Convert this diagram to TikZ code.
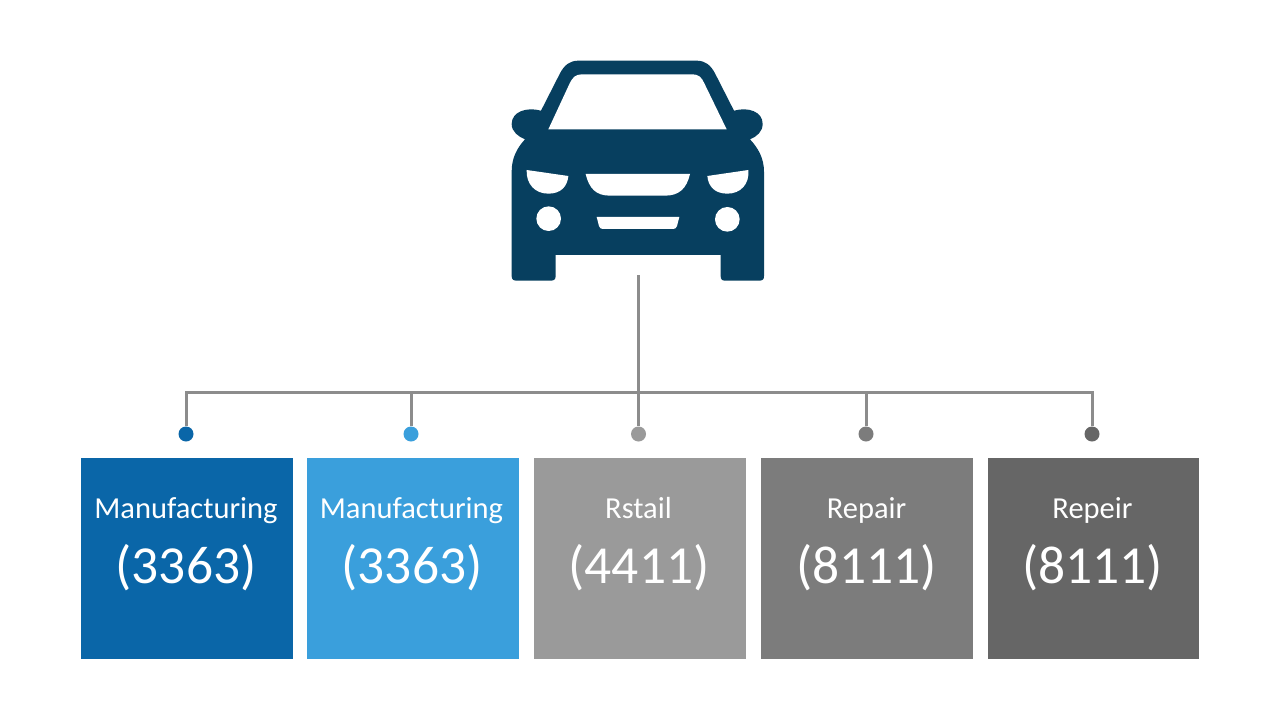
\documentclass[tikz,border=0pt]{standalone}
\usepackage{fontspec}
\setmainfont{Carlito}
\definecolor{carblue}{HTML}{073F5F}
\definecolor{boxa}{HTML}{0A66A8}
\definecolor{boxb}{HTML}{3A9FDC}
\definecolor{boxc}{HTML}{9A9A9A}
\definecolor{boxd}{HTML}{7C7C7C}
\definecolor{boxe}{HTML}{666666}
\definecolor{linegray}{HTML}{8C8C8C}
\tikzset{
  tile/.style={rectangle,inner sep=0pt,minimum height=201pt,minimum width=212pt,draw=none},
  tilename/.style={text=white,inner sep=0pt,anchor=base,font=\fontsize{30.5}{36}\selectfont},
  tilecode/.style={text=white,inner sep=0pt,anchor=base,font=\fontsize{53.5}{62}\selectfont},
  pin/.style={circle,inner sep=0pt,minimum size=15pt,draw=none},
  link/.style={line width=3pt,draw=linegray}
}
\begin{document}
\begin{tikzpicture}[x=1pt,y=-1pt]
\useasboundingbox (0,0) rectangle (1280,720);
\fill[white] (0,0) rectangle (1280,720);
% car
\begin{scope}[shift={(490,40)},x=0.33333pt,y=-0.33333pt]
\fill[carblue] (265,62) -- (620,62) .. controls (645,62) and (662,75) .. (675,100) -- (732,212)
  .. controls (775,200) and (818,215) .. (818,252) .. controls (818,275) and (800,290) .. (780,298)
  .. controls (805,325) and (822,355) .. (822,395) -- (822,708) .. controls (822,718) and (818,722) .. (808,722)
  -- (706,722) .. controls (696,722) and (692,718) .. (692,708) -- (692,645) -- (197,645) -- (197,708)
  .. controls (197,718) and (192,722) .. (182,722) -- (80,722) .. controls (70,722) and (65,718) .. (65,708)
  -- (65,395) .. controls (65,355) and (80,325) .. (105,298)
  .. controls (85,290) and (65,275) .. (65,252) .. controls (65,215) and (110,200) .. (153,212)
  -- (210,100) .. controls (223,75) and (240,62) .. (265,62) -- cycle;
\fill[white] (175,268) -- (710,268) -- (642,128) .. controls (635,112) and (625,103) .. (608,103)
  -- (275,103) .. controls (258,103) and (248,112) .. (240,128) -- cycle;
\fill[white] (110,390) -- (235,408) .. controls (232,440) and (212,461) .. (175,461)
  .. controls (135,461) and (108,432) .. (110,390) -- cycle;
\fill[white] (775,390) -- (652,408) .. controls (655,440) and (675,461) .. (712,461)
  .. controls (752,461) and (779,432) .. (775,390) -- cycle;
\fill[white] (287,402) -- (600,402) .. controls (590,445) and (568,467) .. (525,467) -- (360,467)
  .. controls (318,467) and (297,445) .. (287,402) -- cycle;
\fill[white] (320,531) -- (568,531) -- (561,558) .. controls (559,565) and (555,567) .. (548,567)
  -- (340,567) .. controls (333,567) and (329,565) .. (327,558) -- cycle;
\fill[white] (176,536) circle[radius=37];
\fill[white] (712,538) circle[radius=37];
\end{scope}
% tiles
\node[tile,fill=boxa] (t1) at (186.5,558) {};
\node[tile,fill=boxb] (t2) at (412.5,558) {};
\node[tile,fill=boxc] (t3) at (640,558) {};
\node[tile,fill=boxd] (t4) at (867,558) {};
\node[tile,fill=boxe,minimum width=211pt] (t5) at (1093.5,558) {};
\node[tilename] (n1) at (186,518.5) {Manufacturing};
\node[tilename] (n2) at (411.5,518.5) {Manufacturing};
\node[tilename] (n3) at (638.5,518.5) {Rstail};
\node[tilename] (n4) at (866.5,518.5) {Repair};
\node[tilename] (n5) at (1092.5,518.5) {Repeir};
\node[tilecode] (c1) at (186,583) {(3363)};
\node[tilecode] (c2) at (412,583) {(3363)};
\node[tilecode] (c3) at (639,583) {(4411)};
\node[tilecode] (c4) at (866.5,583) {(8111)};
\node[tilecode] (c5) at (1092.5,583) {(8111)};
% connectors
\coordinate (carbase) at (638.5,275);
\coordinate (hub) at (638.5,392);
\node[pin,fill=boxa] (p1) at (186,434) {};
\node[pin,fill=boxb] (p2) at (411,434) {};
\node[pin,fill=boxc] (p3) at (638.5,434) {};
\node[pin,fill=boxd] (p4) at (866,434) {};
\node[pin,fill=boxe] (p5) at (1092,434) {};
\draw[link] (p1) |- (hub);
\draw[link] (p2) |- (hub);
\draw[link] (p4) |- (hub);
\draw[link] (p5) |- (hub);
\draw[link] (carbase) -- (p3);
\end{tikzpicture}
\end{document}
